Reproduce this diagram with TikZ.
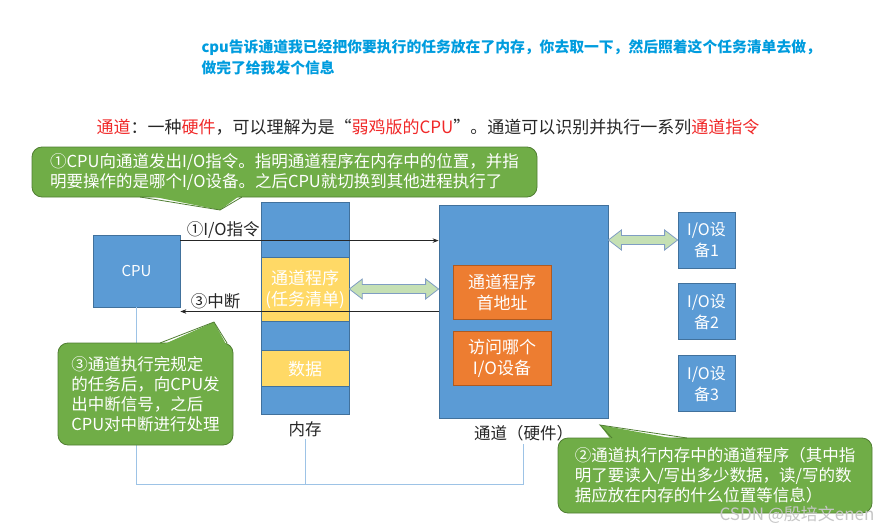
\documentclass[tikz,border=0pt]{standalone}
\usepackage{fontspec}
\setmainfont{Noto Sans CJK SC}
\usetikzlibrary{arrows.meta,positioning,calc}
\definecolor{boxF}{HTML}{5B9BD5}
\definecolor{boxD}{HTML}{41719C}
\definecolor{yelF}{HTML}{FFD966}
\definecolor{orgF}{HTML}{ED7D31}
\definecolor{orgD}{HTML}{AE5A21}
\definecolor{grF}{HTML}{70AD47}
\definecolor{grD}{HTML}{507E32}
\definecolor{busC}{HTML}{9DC3E6}
\definecolor{fatF}{HTML}{C5E0B4}
\definecolor{fatD}{HTML}{7F9DC3}
\definecolor{tipC}{RGB}{0,156,222}
\definecolor{hot}{RGB}{240,40,40}
\definecolor{ink}{HTML}{262626}
\newcommand{\fs}[2]{\fontsize{#1pt}{#2pt}\selectfont}
\newcommand{\hl}[1]{\textcolor{hot}{#1}}
\newcommand{\fatarrow}[2]{%
  \draw[fat] let \p1=(#1), \p2=(#2) in
    (\x1,\y1) -- (\x1+13pt,\y1+10pt) -- (\x1+13pt,\y1+4.5pt) -- (\x2-13pt,\y1+4.5pt)
    -- (\x2-13pt,\y1+10pt) -- (\x2,\y1) -- (\x2-13pt,\y1-10pt) -- (\x2-13pt,\y1-4.5pt)
    -- (\x1+13pt,\y1-4.5pt) -- (\x1+13pt,\y1-10pt) -- cycle;}
\tikzset{
  blk/.style  ={draw=boxD,fill=boxF,line width=0.8pt,inner sep=0pt,
                align=center,text=white,font=\fs{15}{18}},
  yel/.style  ={draw=boxD,fill=yelF,line width=0.6pt,inner sep=0pt,
                align=center,text=white,font=\fs{17}{21},minimum width=88pt},
  org/.style  ={draw=orgD,fill=orgF,line width=0.8pt,inner sep=0pt,
                align=center,text=white,font=\fs{17}{21},
                minimum width=98pt,minimum height=54pt},
  io/.style   ={blk,font=\fs{16}{21},minimum width=57pt,minimum height=56pt},
  note/.style ={draw=grD,fill=grF,line width=0.8pt,rounded corners=10pt,
                inner sep=0pt,align=left,text=white,font=\fs{16.5}{20}},
  lbl/.style  ={text=ink,inner sep=2pt,font=\fs{16.5}{20}},
  ar/.style   ={-{Stealth[length=6pt,width=4.5pt]},draw=ink,line width=0.7pt},
  bus/.style  ={draw=busC,line width=0.9pt},
  fat/.style  ={draw=fatD,fill=fatF,line width=0.8pt},
}

\begin{document}
\begin{tikzpicture}[x=1pt,y=-1pt,node distance=15pt]
\useasboundingbox (0,0) rectangle (896,532);

\node[anchor=west,align=left,text=tipC,font=\bfseries\fs{14.8}{21}] (TOP) at (198,57)
  {cpu告诉通道我已经把你要执行的任务放在了内存，你去取一下，然后照着这个任务清单去做，\\做完了给我发个信息};
\node[anchor=west,text=ink,font=\fs{17}{20}] (DEF) at (93,127)
  {\hl{通道}：一种\hl{硬件}，可以理解为是“\hl{弱鸡版的CPU}”。通道可以识别并执行一系列\hl{通道指令}};

% memory, cpu, channel
\node[blk,minimum width=87pt,minimum height=72pt] (CPU) at (136.5,271) {CPU};
\node[blk,minimum width=88pt,minimum height=212pt] (MEM) at (305,308) {};
\node[yel,minimum height=64pt] (PRG) at (305,289) {通道程序\\(任务清单)};
\node[yel,minimum height=36pt,below=29pt of PRG] (DAT) {数据};
\node[lbl,below=5pt of MEM] (MEML) {内存};

\node[blk,minimum width=169pt,minimum height=213pt] (CH) at (523.5,311.5) {};
\node[org] (ADR) at (502,292) {通道程序\\首地址};
\node[org,below=12pt of ADR] (DEV) {访问哪个\\I/O设备};
\node[lbl,below=5pt of CH] (CHL) {通道（硬件）};

\node[io] (IO1) at (706.5,240) {I/O设\\备1};
\node[io,below=of IO1] (IO2) {I/O设\\备2};
\node[io,below=of IO2] (IO3) {I/O设\\备3};

\coordinate (BUS) at (0,484);
\draw[bus] (CPU.south) -- (CPU.south |- BUS) -| (CHL.south -| CH.south);
\draw[bus] (MEML.south) -- (MEML.south |- BUS);

\draw[ar] ([yshift=-6pt]CPU.north east) -- ([yshift=-6pt]CPU.north east -| CH.west)
  node[lbl,pos=0,above right,xshift=4pt] {①I/O指令};
\draw[ar] (CH.west) -- (CH.west -| CPU.east)
  node[lbl,pos=1,above right,xshift=8pt] {③中断};
\fatarrow{PRG.east}{PRG.east -| CH.west}
\fatarrow{IO1.west -| CH.east}{IO1.west}

% callouts
\node[note,minimum width=505pt,minimum height=50pt] (N1) at (284.5,172)
  {①CPU向通道发出I/O指令。指明通道程序在内存中的位置，并指\\明要操作的是哪个I/O设备。之后CPU就切换到其他进程执行了};
\coordinate (T1) at (220,210);
\fill[grF] (140,194) -- (T1) -- (242,194) -- cycle;
\draw[grD,line width=0.8pt] (140,197) -- (T1) -- (242,197);

\node[note,minimum width=175pt,minimum height=102pt] (N3) at (145.5,394)
  {③通道执行完规定\\的任务后，向CPU发\\出中断信号，之后\\CPU对中断进行处理};
\coordinate (T3) at (214,322);
\fill[grF] (160,346) -- (T3) -- (227,346) -- cycle;
\draw[grD,line width=0.8pt] (160,343) -- (T3) -- (227,343);

\node[note,minimum width=314pt,minimum height=75pt] (N2) at (715,475.5)
  {②通道执行内存中的通道程序（其中指\\明了要读入/写出多少数据，读/写的数\\据应放在内存的什么位置等信息）};
\coordinate (T2) at (600,425);
\fill[grF] (612,441) -- (T2) -- (687,441) -- cycle;
\draw[grD,line width=0.8pt] (612,438) -- (T2) -- (687,438);

\node[text=gray!45,font=\fs{17}{20}] (WM) at (797,515) {CSDN @殷培文enen};
\end{tikzpicture}
\end{document}
